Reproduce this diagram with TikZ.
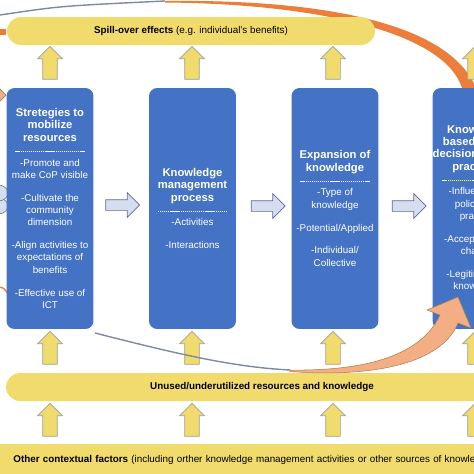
\documentclass[tikz,border=0pt]{standalone}
\usepackage{fontspec}
\setmainfont{Liberation Sans}
\usetikzlibrary{shapes.arrows,positioning}
\definecolor{boxblue}{HTML}{4472C4}
\definecolor{baryellow}{HTML}{F1DB6C}
\definecolor{arrowblue}{HTML}{D5DEEF}
\definecolor{arcorange}{HTML}{EC7D3A}
\definecolor{paleorange}{HTML}{F3AE84}
\definecolor{arcgray}{HTML}{7D8AA3}
\newcommand{\dashsep}{\hbox to 1.4cm{\xleaders\hbox to 1.1pt{\hss\rule[2pt]{0.7pt}{0.35pt}\hss}\hfill}}
\newcommand{\ttl}[1]{{\fontsize{6.4}{7}\selectfont\bfseries #1}}
\tikzset{%
	stage/.style  = {fill=boxblue, rounded corners=0.16cm, minimum width=1.74cm, minimum height=4.82cm, text=white, align=center, inner sep=0pt, font=\fontsize{5.6}{7}\selectfont}, % Stage box
	bar/.style    = {fill=baryellow, minimum height=0.56cm, inner sep=0pt, font=\fontsize{5.6}{7}\selectfont}, % Yellow band
	uparr/.style  = {single arrow, rotate=90, fill=baryellow, draw=gray!75, line width=0.4pt, minimum height=0.66cm, inner xsep=0pt, inner ysep=0.14cm, single arrow head extend=0.1cm}, % Up arrow
	rarr/.style   = {single arrow, fill=arrowblue, draw=gray!80!blue, line width=0.4pt, minimum height=0.68cm, inner xsep=0pt, inner ysep=0.1cm, single arrow head extend=0.14cm}, % Right arrow
}
\begin{document}
\begin{tikzpicture}[x=0.02cm,y=-0.02cm]
	\useasboundingbox (0,0) rectangle (474,474);
	\clip (0,0) rectangle (474,474);
	% feedback arc over the top
	\coordinate (ta) at (0,15);
	\coordinate (tb) at (165,1);
	\draw[arcgray,line width=0.8pt] (ta) .. controls (60,6) .. (tb);
	\fill[arcorange] (tb) .. controls (330,-1) and (450,25) .. (476,88) -- (462,88) .. controls (446,36) and (330,4) .. (165,2.5) -- cycle;
	% cut-off shapes at the left edge
	\fill[arcorange] (-2,29) rectangle (6,35);
	\draw[fill=paleorange,draw=gray] (-6,95) -- (0,89) -- (6,95) -- (0,101) -- cycle;
	\draw[fill=arrowblue,draw=gray] (-2,206) ellipse (10 and 8);
	\draw[fill=arrowblue,draw=gray] (-2,193) ellipse (10 and 8);
	\draw[arcorange,line width=0.8pt] (-1,287) .. controls (4,288) .. (8,294);
	% bands
	\node[bar, rounded corners=0.28cm, minimum width=7.36cm] (spill) at (191,31) {\textbf{Spill-over effects} (e.g. individual's benefits)};
	\node[bar, rounded corners=0.28cm, minimum width=10.24cm] (unused) at (262,387) {\textbf{Unused/underutilized resources and knowledge}};
	\node[bar, anchor=west, minimum height=0.62cm, text width=11.5cm, inner xsep=0.26cm, align=left] (context) at (0,459.5) {\textbf{Other contextual factors} (including orther knowledge management activities or other sources of knowledge)};
	% stages
	\node[stage] (s1) at (50,208.5) {\ttl{Stretegies to}\\\ttl{mobilize}\\\ttl{resources}\\[0.9pt]\dashsep\\[-0.8pt]-Promote and\\make CoP visible\\[6pt]-Cultivate the\\community\\dimension\\[6pt]-Align activities to\\expectations of\\benefits\\[6pt]-Effective use of\\ICT};
	\node[stage] (s2) at (192.5,208.5) {\ttl{Knowledge}\\\ttl{management}\\\ttl{process}\\[0.9pt]\dashsep\\[-0.8pt]-Activities\\[6pt]-Interactions};
	\node[stage] (s3) at (335,208.5) {\ttl{Expansion of}\\\ttl{knowledge}\\[0.9pt]\dashsep\\[-0.8pt]-Type of\\knowledge\\[6pt]-Potential/Applied\\[6pt]-Individual/\\Collective};
	\node[stage] (s4) at (477,208.5) {\ttl{Knowledge}\\\ttl{based policy}\\\ttl{decision-making}\\\ttl{practices}\\[0.9pt]\dashsep\\[-0.8pt]-Influence on\\policy and\\practice\\[6pt]-Acceptance of\\change\\[6pt]-Legitimacy of\\knowledge};
	% block arrows
	\node[rarr] (r12) at (120,205) {};
	\node[rarr] (r23) at (265.5,206) {};
	\node[rarr] (r34) at (406.5,206) {};
	\foreach \x [count=\i] in {50,192,333,475} {
		\node[uparr] (ut\i) at (\x,66.5) {};
		\node[uparr] (um\i) at (\x,351.5) {};
		\node[uparr] (ub\i) at (\x,423.5) {};
	}
	% feedback arc along the bottom
	\coordinate (ba) at (95,333);
	\coordinate (bb) at (290,370);
	\draw[arcgray,line width=0.8pt] (ba) .. controls (170,352) and (230,367) .. (bb);
	\draw[fill=paleorange,draw=brown!70!gray,line width=0.3pt] (bb) .. controls (360,371) and (420,358) .. (440,315) -- (427,310) -- (458,297) -- (471,328) -- (458,323) .. controls (440,368) and (360,377) .. (290,371.5) -- cycle;
\end{tikzpicture}
\end{document}
